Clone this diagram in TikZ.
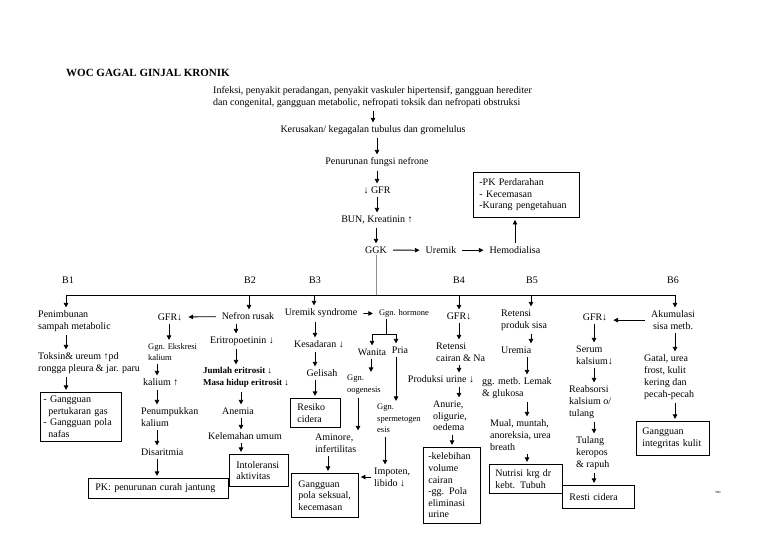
\documentclass[tikz,border=0pt]{standalone}
\usepackage{fontspec}
\setmainfont{Liberation Serif}
\usetikzlibrary{arrows.meta}
\definecolor{grey}{cmyk}{0,0,0,0.5}

\begin{document}
\begin{tikzpicture}[x=1pt,y=-1pt]
    \tikzset{%
      txt/.style={inner sep=1pt, align=left, font=\fontsize{10}{11.8}\selectfont},
      sml/.style={inner sep=1pt, align=left, font=\fontsize{8.5}{11.5}\selectfont},
      box/.style={draw, line width=0.8pt, anchor=north west, align=left,
        inner ysep=1pt, font=\fontsize{10}{11.6}\selectfont},
      arr/.style={-{Triangle[length=4.6pt,width=4.4pt]}, line width=0.8pt,
        shorten <=2.5pt, shorten >=2pt},
      harr/.style={arr, shorten <=5pt, shorten >=5pt},
      drop/.style={arr, shorten <=0pt},
    }
    \useasboundingbox (0,0) rectangle (768,543);

    % top chain
    \node[txt, anchor=north west, font=\fontsize{11}{13}\selectfont\bfseries] (title) at (65,68) {WOC GAGAL GINJAL KRONIK};
    \node[txt, anchor=north west] (inf) at (212,85.5) {Infeksi, penyakit peradangan, penyakit vaskuler hipertensif, gangguan herediter\\dan congenital, gangguan metabolic, nefropati toksik dan nefropati obstruksi};
    \node[txt, anchor=north] (ker) at (373,124.5) {Kerusakan/ kegagalan tubulus dan gromelulus};
    \node[txt, anchor=north] (fun) at (377,156.5) {Penurunan fungsi nefrone};
    \node[txt, anchor=north] (gfr) at (377,185.5) {↓ GFR};
    \node[txt, anchor=north] (bun) at (377,214.5) {BUN, Kreatinin ↑};
    \node[txt, anchor=north] (ggk) at (376,245.5) {GGK};
    \node[txt, anchor=north] (urk) at (441,245.5) {Uremik};
    \node[txt, anchor=north] (hemo) at (515,245.5) {Hemodialisa};
    \node[box, text width=94pt, inner xsep=6pt, minimum height=45pt] (pk) at (473,172) {-PK Perdarahan\\- Kecemasan\\-Kurang pengetahuan};
    \draw[arr] (inf.south -| ker) -- (ker);
    \draw[arr] (ker.south -| fun) -- (fun);
    \draw[arr] (fun) -- (gfr);
    \draw[arr] (gfr) -- (bun);
    \draw[arr] (bun.south -| ggk) -- (ggk);
    \draw[harr] (ggk) -- (urk);
    \draw[harr] (urk) -- (hemo);
    \draw[arr] (hemo) -- (hemo |- pk.south);

    % branches
    \coordinate (t1) at (66,295);
    \coordinate (t2) at (249,295);
    \coordinate (t3) at (314,295);
    \coordinate (t4) at (459,295);
    \coordinate (t5) at (531,295);
    \coordinate (t6) at (675,295);
    \draw[grey, line width=0.6pt] (ggk) -- (ggk |- t1);
    \draw[line width=0.9pt] (t1) -- (t6);
    \node[txt, anchor=north] (B1) at (68,275.5) {B1};
    \node[txt, anchor=north] (B2) at (250,275.5) {B2};
    \node[txt, anchor=north] (B3) at (315,275.5) {B3};
    \node[txt, anchor=north] (B4) at (459,275.5) {B4};
    \node[txt, anchor=north] (B5) at (532,275.5) {B5};
    \node[txt, anchor=north] (B6) at (673,275.5) {B6};

    % B1
    \node[txt, anchor=north west] (pen) at (37,309.5) {Penimbunan\\sampah metabolic};
    \node[txt, anchor=north west] (tok) at (37,351.5) {Toksin\& ureum ↑pd\\rongga pleura \& jar. paru};
    \node[box, text width=75pt, inner xsep=3pt, minimum height=49pt] (gas) at (40,392) {- Gangguan\\\hspace*{5pt}pertukaran gas\\- Gangguan pola\\\hspace*{5pt}nafas};
    \draw[drop] (t1) -- (pen.north -| t1);
    \draw[arr] (pen.south -| t1) -- (tok.north -| t1);
    \draw[arr] (tok.south -| t1) -- (gas.north -| t1);

    % B2
    \coordinate (c2a) at (169,0);
    \coordinate (c2b) at (157,0);
    \coordinate (c2c) at (236,0);
    \coordinate (c2d) at (241,0);
    \node[txt, anchor=north] (nef) at (248,311.5) {Nefron rusak};
    \node[txt, anchor=north] (gfrk) at (170,312.5) {GFR↓};
    \node[sml, anchor=north west] (eks) at (147,342) {Ggn. Ekskresi\\kalium};
    \node[txt, anchor=north west] (kal) at (142,377.5) {kalium ↑};
    \node[txt, anchor=north west] (tum) at (140,406.5) {Penumpukkan\\kalium};
    \node[txt, anchor=north west] (dis) at (140,447.5) {Disaritmia};
    \node[box, text width=126pt, inner xsep=7pt, minimum height=20pt] (cur) at (88,478) {PK: penurunan curah jantung};
    \node[txt, anchor=north] (eri) at (242,335.5) {Eritropoetinin ↓};
    \node[txt, anchor=north west, font=\fontsize{9}{12}\selectfont\bfseries] (jum) at (202,366.5) {Jumlah eritrosit ↓\\Masa hidup eritrosit ↓};
    \node[txt, anchor=north] (ane) at (238,406.5) {Anemia};
    \node[txt, anchor=north] (kel) at (245,431.5) {Kelemahan umum};
    \node[box, text width=45pt, inner xsep=7pt, minimum height=32pt] (int) at (229,454) {Intoleransi\\aktivitas};
    \draw[drop] (t2) -- (nef.north -| t2);
    \draw[harr] (nef) -- (gfrk);
    \draw[arr] (gfrk.south -| c2a) -- (eks.north -| c2a);
    \draw[arr] (eks.south -| c2b) -- (kal.north -| c2b);
    \draw[arr] (kal.south -| c2b) -- (tum.north -| c2b);
    \draw[arr] (tum.south -| c2b) -- (dis.north -| c2b);
    \draw[arr] (dis.south -| c2b) -- (cur.north -| c2b);
    \draw[arr] (nef.south -| c2c) -- (eri.north -| c2c);
    \draw[arr] (eri.south -| c2c) -- (jum.north -| c2c);
    \draw[arr] (jum.south -| c2d) -- (ane.north -| c2d);
    \draw[arr] (ane.south -| c2d) -- (kel.north -| c2d);
    \draw[arr] (kel.south -| c2d) -- (int.north -| c2d);

    % B3
    \coordinate (c3a) at (315,0);
    \coordinate (brk) at (386,334);
    \coordinate (c3w) at (371,0);
    \coordinate (c3o) at (358,0);
    \coordinate (c3m) at (328,0);
    \coordinate (c3p) at (396,0);
    \coordinate (c3s) at (385,0);
    \node[txt, anchor=north] (ure) at (321,307.5) {Uremik syndrome};
    \node[sml, anchor=north] (hor) at (404,308.5) {Ggn. hormone};
    \node[txt, anchor=north] (kes) at (319,339.5) {Kesadaran ↓};
    \node[txt, anchor=north] (gel) at (322,368.5) {Gelisah};
    \node[box, text width=36pt, inner xsep=7pt, minimum height=29pt] (res) at (290,398) {Resiko\\cidera};
    \node[txt, anchor=north] (wan) at (372,347.5) {Wanita};
    \node[txt, anchor=north] (pri) at (400,345.5) {Pria};
    \node[sml, anchor=north west] (oog) at (346,374) {Ggn.\\oogenesis};
    \node[txt, anchor=north west] (ami) at (314,432.5) {Aminore,\\infertilitas};
    \node[box, text width=53pt, inner xsep=7pt, minimum height=44pt] (sek) at (291,473) {Gangguan\\pola seksual,\\kecemasan};
    \node[sml, anchor=north west] (spe) at (376,403) {Ggn.\\spermetogen\\esis};
    \node[txt, anchor=north west] (imp) at (373,466.5) {Impoten,\\libido ↓};
    \draw[drop] (t3) -- (ure.north -| t3);
    \draw[harr] (ure) -- (hor);
    \draw[arr] (ure.south -| c3a) -- (kes.north -| c3a);
    \draw[arr] (kes.south -| c3a) -- (gel.north -| c3a);
    \draw[arr] (gel.south -| c3a) -- (res.north -| c3a);
    \draw[drop] (hor.south -| brk) -- (brk) -- (brk -| wan) -- (wan.north);
    \draw[drop] (brk) -- (brk -| c3p) -- (pri.north -| c3p);
    \draw[arr] (wan.south -| c3w) -- (oog.north -| c3w);
    \draw[arr] (oog.south -| c3o) -- (ami.north -| c3o);
    \draw[arr] (ami.south -| c3m) -- (sek.north -| c3m);
    \draw[arr] (pri.south -| c3p) -- (spe.north -| c3p);
    \draw[arr] (spe.south -| c3s) -- (imp.north -| c3s);
    \draw[arr] (imp) -- (imp -| sek.east);

    % B4
    \coordinate (c4b) at (452,0);
    \node[txt, anchor=north] (gfrc) at (459,311.5) {GFR↓};
    \node[txt, anchor=north west] (ret) at (435,341.5) {Retensi\\cairan \& Na};
    \node[txt, anchor=north] (pro) at (441,374.5) {Produksi urine ↓};
    \node[txt, anchor=north west] (anu) at (432,399.5) {Anurie,\\oligurie,\\oedema};
    \node[box, text width=47pt, inner xsep=5pt, minimum height=76pt] (vol) at (423,447) {-kelebihan\\volume\\cairan\\-gg. Pola\\eliminasi\\urine};
    \draw[drop] (t4) -- (gfrc.north -| t4);
    \draw[arr] (gfrc.south -| t4) -- (ret.north -| t4);
    \draw[arr] (ret.south -| t4) -- (pro.north -| t4);
    \draw[arr] (pro.south -| t4) -- (anu.north -| t4);
    \draw[arr] (anu.south -| c4b) -- (vol.north -| c4b);

    % B5
    \coordinate (c5b) at (527,0);
    \node[txt, anchor=north west] (rps) at (500,308.5) {Retensi\\produk sisa};
    \node[txt, anchor=north west] (urm) at (500,345.5) {Uremia};
    \node[txt, anchor=north west] (met) at (481,376.5) {gg. metb. Lemak\\\& glukosa};
    \node[txt, anchor=north west] (mua) at (489,418.5) {Mual, muntah,\\anoreksia, urea\\breath};
    \node[box, text width=61pt, inner xsep=6pt, minimum height=29pt] (nut) at (489,464) {Nutrisi krg dr\\kebt. Tubuh};
    \draw[drop] (t5) -- (rps.north -| t5);
    \draw[arr] (rps.south -| t5) -- (urm.north -| t5);
    \draw[arr] (urm.south -| c5b) -- (met.north -| c5b);
    \draw[arr] (met.south -| c5b) -- (mua.north -| c5b);
    \draw[arr] (mua.south -| c5b) -- (nut.north -| c5b);

    % B6
    \coordinate (c6) at (594,0);
    \node[txt, anchor=north, align=center] (aku) at (673,309.5) {Akumulasi\\sisa metb.};
    \node[txt, anchor=north] (gfrt) at (595,312.5) {GFR↓};
    \node[txt, anchor=north west] (ser) at (575,344.5) {Serum\\kalsium↓};
    \node[txt, anchor=north west] (rea) at (568,384.5) {Reabsorsi\\kalsium o/\\tulang};
    \node[txt, anchor=north west] (tul) at (575,435.5) {Tulang\\keropos\\\& rapuh};
    \node[box, text width=58pt, inner xsep=7pt, minimum height=23pt] (rci) at (562,485) {Resti cidera};
    \node[txt, anchor=north west] (gat) at (643,353.5) {Gatal, urea\\frost, kulit\\kering dan\\pecah-pecah};
    \node[box, text width=61pt, inner xsep=6pt, minimum height=34pt] (kul) at (636,421) {Gangguan\\integritas kulit};
    \draw[drop] (t6) -- (aku.north -| t6);
    \draw[harr] (aku) -- (aku -| gfrt.east);
    \draw[arr] (gfrt.south -| c6) -- (ser.north -| c6);
    \draw[arr] (ser.south -| c6) -- (rea.north -| c6);
    \draw[arr] (rea.south -| c6) -- (tul.north -| c6);
    \draw[arr] (tul.south -| c6) -- (rci.north -| c6);
    \draw[arr] (aku.south -| t6) -- (gat.north -| t6);
    \draw[arr] (gat.south -| t6) -- (kul.north -| t6);

    \node[inner sep=0pt, font=\tiny] (pg) at (718,492) {$\infty$};
\end{tikzpicture}
\end{document}
